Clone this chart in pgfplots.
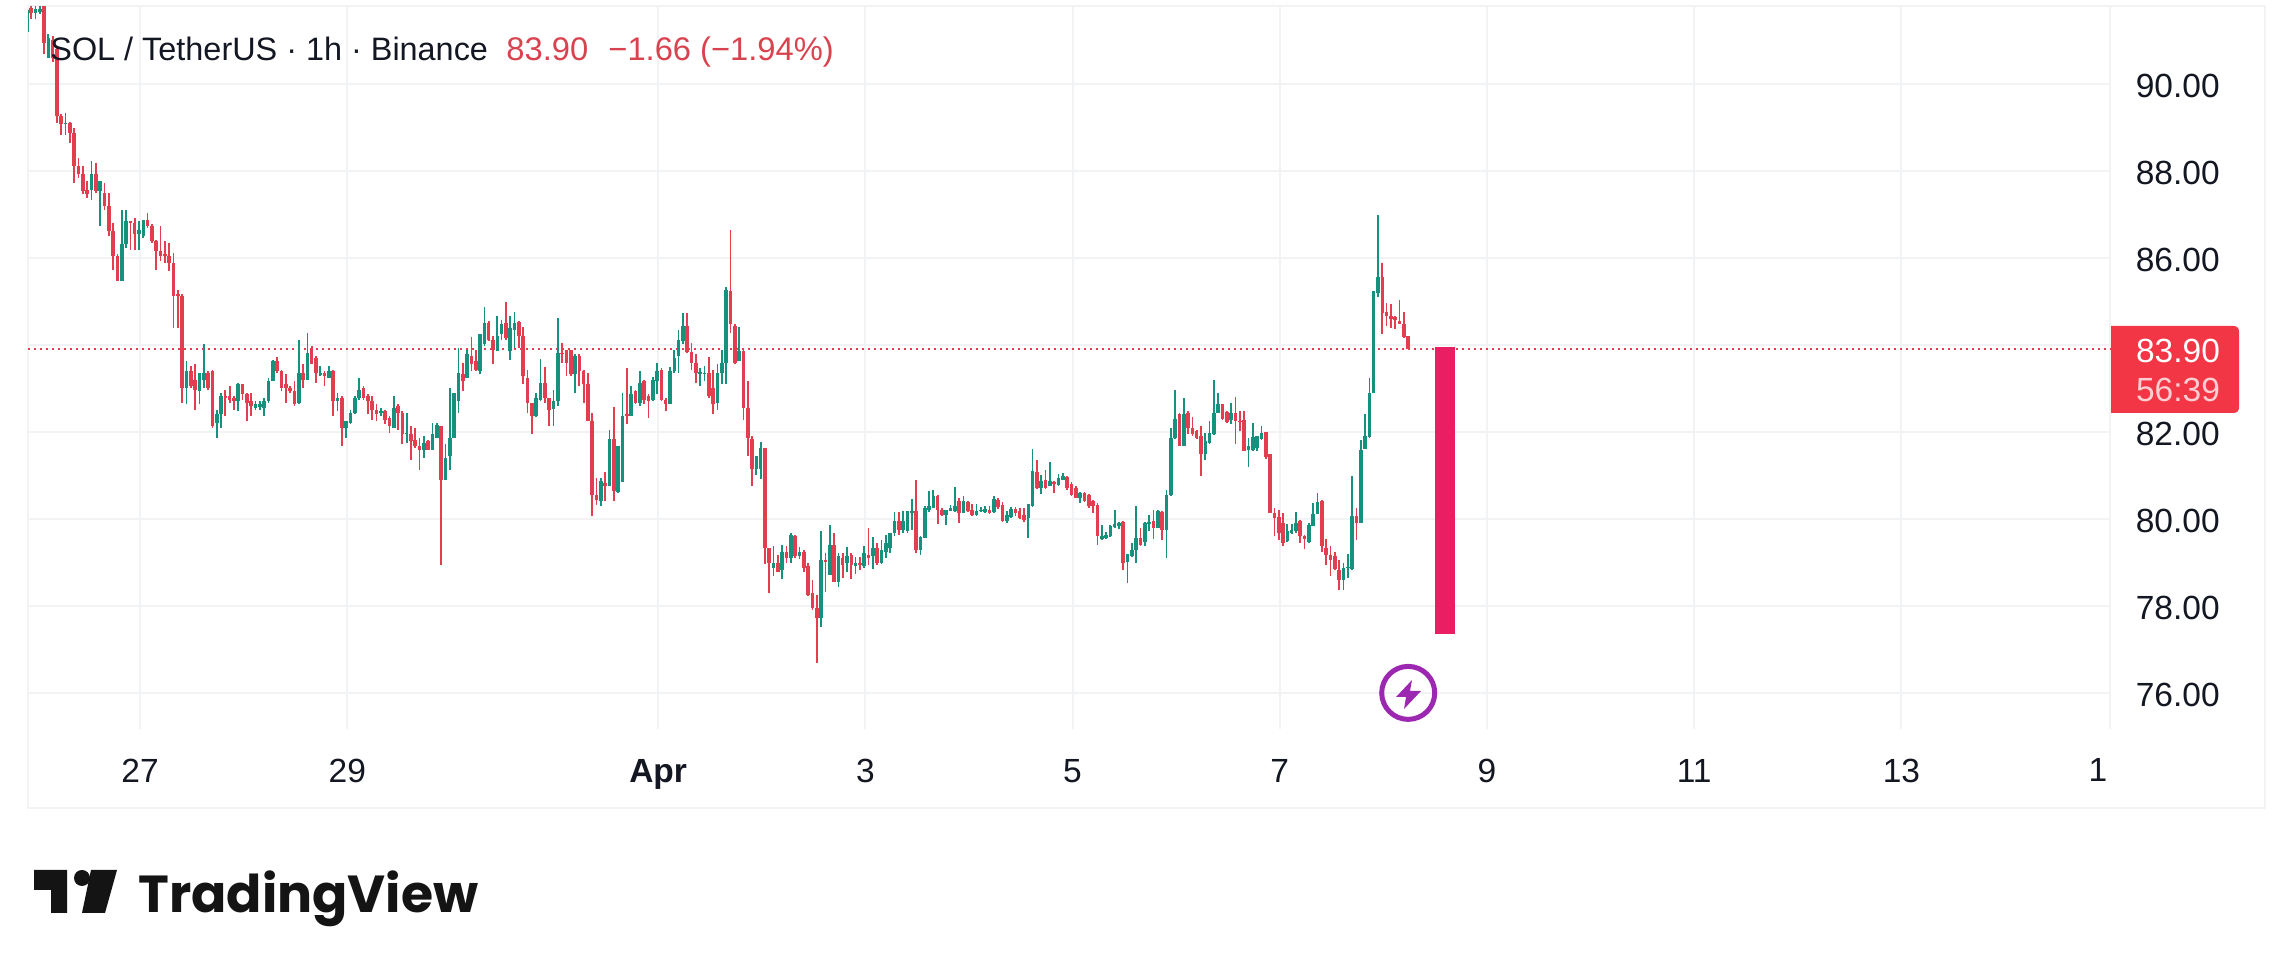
\documentclass[border=0pt]{standalone}
\usepackage{pgfplots}
\usepackage{pgfplotstable}
\usepackage{fontspec}
\pgfplotsset{compat=1.18}
\setmainfont{Liberation Sans}
\newfontfamily\logofont{Poppins}
\definecolor{upc}{HTML}{16917D}
\definecolor{dnc}{HTML}{E23E50}
\definecolor{gridc}{HTML}{F2F3F5}
\definecolor{textc}{HTML}{131722}
\definecolor{titlered}{HTML}{D9434F}
\definecolor{tagred}{HTML}{F23645}
\definecolor{barc}{HTML}{E91E63}
\definecolor{purp}{HTML}{9C27B0}
\newcommand{\tf}{\fontsize{16.75pt}{20pt}\selectfont}
\newcommand{\ttf}{\fontsize{16.35pt}{20pt}\selectfont}
\newcommand{\tbf}{\fontsize{16.2pt}{20pt}\selectfont}
\pgfplotstableread{
h o hi lo c
-26 91.2 91.79 91.03 91.7
-25 91.75 91.79 91.48 91.62
-24 91.62 91.79 91.48 91.72
-23 91.65 91.79 91.6 91.72
-22 91.79 91.79 90.68 90.95
-21 90.6 91.14 90.6 91.06
-20 91.0 91.1 90.5 90.6
-19 90.8 90.85 89.11 89.26
-18 89.26 89.3 88.82 89.07
-17 89.07 89.34 88.82 89.11
-16 89.09 89.12 88.65 88.88
-15 88.88 88.99 87.73 88.11
-14 88.11 88.3 87.84 87.92
-13 87.92 88.11 87.46 87.54
-12 87.57 87.76 87.38 87.46
-11 87.57 88.22 87.34 87.92
-10 87.92 88.19 87.5 87.54
-9 87.54 87.77 86.73 87.77
-8 87.5 87.71 87.11 87.19
-7 87.19 87.5 86.5 86.61
-6 86.61 86.79 85.73 86.04
-5 86.04 86.1 85.46 85.46
-4 85.46 87.11 85.46 86.31
-3 86.31 87.11 86.23 86.85
-2 86.85 86.85 86.19 86.8
-1 86.8 86.92 86.19 86.54
0 86.54 86.85 86.19 86.65
1 86.5 86.88 86.46 86.87
2 86.88 87.04 86.69 86.73
3 86.73 86.77 86.35 86.38
4 86.38 86.42 85.73 86.15
5 86.15 86.73 85.92 86.04
6 86.08 86.38 85.89 86.04
7 86.04 86.35 85.69 85.89
8 85.89 86.12 84.39 85.12
9 85.16 85.27 84.39 85.12
10 85.12 85.16 82.67 83.01
11 83.01 83.62 82.63 83.39
12 83.39 83.51 83.01 83.05
13 83.2 83.55 82.51 82.97
14 82.93 83.36 82.63 83.36
15 83.2 84.01 83.01 83.36
16 83.36 83.39 82.97 83.01
17 83.39 83.43 82.09 82.13
18 82.2 82.51 81.86 82.4
19 82.4 82.9 82.09 82.82
20 82.82 82.97 82.36 82.78
21 82.82 83.05 82.67 82.74
22 82.78 82.82 82.51 82.7
23 82.7 83.13 82.47 83.09
24 83.09 83.09 82.74 82.86
25 82.86 82.9 82.24 82.67
26 82.7 82.9 82.36 82.59
27 82.55 82.7 82.51 82.63
28 82.58 82.7 82.51 82.63
29 82.55 82.78 82.36 82.7
30 82.7 83.24 82.67 83.17
31 83.17 83.66 83.17 83.62
32 83.62 83.72 83.36 83.39
33 83.39 83.43 82.93 83.01
34 83.09 83.32 82.67 83.01
35 83.01 83.05 82.9 82.93
36 82.93 83.17 82.59 82.63
37 82.67 84.11 82.63 83.36
38 83.36 83.55 83.01 83.2
39 83.2 84.28 83.2 83.82
40 83.89 83.97 83.55 83.55
41 83.7 83.74 83.13 83.36
42 83.3 83.51 83.28 83.36
43 83.36 83.39 83.05 83.28
44 83.24 83.51 83.24 83.39
45 83.39 83.43 82.36 82.7
46 82.7 82.9 82.47 82.78
47 82.78 82.82 81.67 82.09
48 82.09 82.24 81.86 82.24
49 82.2 82.51 82.17 82.44
50 82.44 82.82 82.4 82.78
51 82.78 83.24 82.74 82.97
52 83.01 83.05 82.74 82.78
53 82.82 82.86 82.4 82.7
54 82.7 82.82 82.28 82.51
55 82.51 82.63 82.24 82.4
56 82.44 82.55 82.36 82.47
57 82.47 82.51 82.17 82.28
58 82.32 82.36 81.98 82.13
59 82.09 82.82 82.09 82.55
60 82.59 82.63 82.05 82.44
61 82.44 82.47 81.71 81.94
62 81.94 82.44 81.74 81.98
63 81.94 82.13 81.36 81.78
64 81.82 82.09 81.63 81.67
65 81.67 81.86 81.13 81.59
66 81.59 81.9 81.4 81.74
67 81.78 81.82 81.59 81.59
68 81.59 82.2 81.59 81.94
69 81.86 82.2 81.86 82.15
70 82.13 82.13 78.94 80.9
71 80.9 81.71 80.9 81.4
72 81.44 83.01 81.13 81.86
73 81.86 82.9 81.86 82.9
74 82.7 83.93 82.44 83.36
75 83.32 83.59 82.93 83.17
76 83.24 83.89 83.24 83.78
77 83.74 84.18 83.39 83.55
78 83.62 83.89 83.39 83.43
79 83.39 84.24 83.32 84.24
80 84.01 84.87 83.97 84.51
81 84.51 84.55 84.1 84.12
82 84.12 84.2 83.55 83.89
83 83.85 84.66 83.85 84.2
84 84.24 84.58 84.12 84.47
85 84.51 84.98 84.12 84.16
86 83.85 84.66 83.66 84.39
87 84.35 84.75 83.93 84.51
88 84.52 84.54 83.93 84.2
89 84.2 84.41 83.09 83.28
90 83.24 83.42 82.44 82.67
91 82.67 82.67 81.96 82.36
92 82.36 82.9 82.34 82.78
93 82.74 83.68 82.7 83.13
94 83.13 83.49 82.67 82.78
95 82.78 82.78 82.13 82.51
96 82.53 82.96 82.13 82.7
97 82.7 84.62 82.59 83.82
98 83.82 84.05 83.59 83.8
99 83.89 83.89 83.28 83.59
100 83.89 83.89 83.28 83.32
101 83.32 83.78 82.9 83.75
102 83.74 83.8 83.05 83.39
103 83.39 83.42 82.67 83.09
104 83.09 83.36 82.24 82.24
105 82.24 82.44 80.07 80.56
106 80.56 80.94 80.33 80.44
107 80.4 80.94 80.29 80.86
108 80.83 81.07 80.4 80.75
109 80.75 82.05 80.75 81.84
110 81.84 82.57 80.4 80.63
111 80.61 81.67 80.59 81.67
112 80.84 82.9 80.84 82.37
113 82.4 83.47 82.19 82.36
114 82.36 83.06 82.36 82.86
115 82.93 82.97 82.65 82.67
116 82.67 83.39 82.59 83.13
117 83.16 83.2 82.63 82.74
118 82.82 82.86 82.32 82.7
119 82.74 83.26 82.7 83.2
120 83.16 83.59 82.86 83.39
121 83.42 83.47 82.7 82.73
122 82.74 82.78 82.47 82.63
123 82.63 83.49 82.63 83.39
124 83.39 83.89 83.36 83.7
125 83.74 84.34 83.36 84.12
126 84.08 84.73 84.01 84.43
127 84.44 84.73 83.82 83.83
128 83.83 84.05 83.43 83.59
129 83.59 83.78 83.13 83.36
130 83.34 83.47 83.06 83.37
131 83.34 83.51 83.16 83.36
132 83.36 83.72 82.78 82.82
133 83.01 83.42 82.4 82.65
134 82.67 83.57 82.51 83.36
135 83.36 83.88 83.09 83.59
136 83.59 85.33 83.09 85.27
137 85.23 86.64 84.28 84.47
138 84.44 84.47 83.55 83.59
139 83.62 84.41 83.62 83.85
140 83.85 83.88 82.28 82.55
141 82.55 83.16 81.44 81.86
142 81.84 81.91 80.75 81.15
143 81.15 81.44 81.02 81.44
144 81.15 81.76 80.92 81.63
145 81.63 81.63 78.97 79.33
146 79.33 79.33 78.29 78.98
147 78.87 79.38 78.68 78.98
148 78.98 79.18 78.77 78.79
149 78.83 79.41 78.62 79.25
150 79.25 79.37 78.98 79.1
151 79.1 79.67 78.98 79.64
152 79.61 79.64 79.1 79.14
153 79.14 79.35 79.08 79.25
154 79.25 79.29 78.79 78.87
155 78.91 78.98 78.22 78.26
156 78.29 78.6 77.91 77.95
157 77.95 78.26 76.68 77.72
158 77.72 79.71 77.51 79.06
159 79.06 79.21 78.33 79.02
160 78.72 79.87 78.72 79.41
161 79.41 79.67 78.56 78.56
162 78.56 79.21 78.43 79.14
163 79.1 79.21 78.64 78.95
164 78.98 79.35 78.77 79.14
165 79.17 79.21 78.62 78.95
166 78.92 79.12 78.74 78.98
167 78.98 79.12 78.82 78.95
168 78.91 79.37 78.87 79.21
169 79.17 79.79 78.95 79.1
170 79.14 79.58 78.85 79.33
171 79.33 79.45 78.95 78.98
172 78.98 79.52 78.97 79.29
173 79.25 79.64 79.1 79.44
174 79.33 79.67 79.21 79.67
175 79.67 80.15 79.6 79.94
176 79.94 80.15 79.64 79.75
177 79.75 80.19 79.67 79.94
178 79.71 80.19 79.67 80.17
179 80.13 80.46 79.75 80.17
180 80.17 80.89 79.21 79.29
181 79.29 79.6 79.18 79.58
182 79.56 80.3 79.56 80.25
183 80.21 80.63 80.15 80.29
184 80.25 80.66 80.25 80.53
185 80.53 80.56 79.89 80.21
186 80.21 80.25 80.06 80.1
187 80.1 80.21 79.87 80.2
188 80.17 80.33 80.17 80.25
189 80.17 80.73 80.15 80.3
190 80.4 80.48 79.9 80.13
191 80.13 80.52 80.13 80.4
192 80.38 80.4 80.15 80.17
193 80.21 80.35 80.06 80.1
194 80.1 80.35 80.07 80.17
195 80.17 80.27 80.15 80.21
196 80.15 80.3 80.14 80.23
197 80.21 80.29 80.12 80.14
198 80.15 80.52 80.14 80.46
199 80.44 80.48 80.23 80.27
200 80.33 80.38 79.92 79.94
201 79.94 80.17 79.9 80.1
202 80.04 80.27 80.03 80.23
203 80.23 80.27 80.06 80.14
204 80.17 80.25 80.0 80.02
205 80.1 80.25 79.92 79.98
206 80.02 80.35 79.56 80.35
207 80.29 81.61 80.27 81.09
208 81.07 81.36 80.69 80.71
209 80.71 81.02 80.58 80.86
210 80.9 81.12 80.69 80.71
211 80.76 81.3 80.75 80.86
212 80.84 80.86 80.6 80.81
213 80.79 81.04 80.76 80.94
214 80.9 81.06 80.89 80.98
215 80.96 80.98 80.67 80.71
216 80.81 80.84 80.52 80.56
217 80.71 80.75 80.48 80.48
218 80.48 80.61 80.37 80.6
219 80.6 80.61 80.38 80.4
220 80.56 80.58 80.25 80.29
221 80.4 80.44 80.14 80.3
222 80.33 80.37 79.41 79.6
223 79.54 79.87 79.52 79.6
224 79.56 79.69 79.54 79.64
225 79.6 79.87 79.58 79.84
226 79.81 80.21 79.79 79.89
227 79.84 79.92 79.77 79.91
228 79.92 79.94 78.82 78.98
229 79.0 79.2 78.52 79.2
230 79.15 79.45 79.12 79.28
231 79.28 80.3 78.98 79.56
232 79.56 79.79 79.38 79.41
233 79.46 79.92 79.37 79.9
234 79.89 80.1 79.71 79.92
235 79.94 80.21 79.54 79.79
236 79.79 80.21 79.79 80.17
237 80.15 80.17 79.52 79.75
238 79.75 80.67 79.1 80.56
239 80.56 82.09 80.52 81.86
240 81.86 82.97 81.84 82.3
241 82.4 82.44 81.67 81.67
242 81.67 82.78 81.67 82.4
243 82.44 82.47 81.94 82.09
244 82.09 82.34 81.9 81.94
245 82.01 82.05 81.84 81.86
246 81.9 82.13 80.98 81.48
247 81.48 81.98 81.36 81.78
248 81.75 82.24 81.73 81.98
249 81.96 83.2 81.92 82.44
250 82.44 82.9 82.44 82.65
251 82.65 82.65 82.27 82.3
252 82.45 82.47 82.2 82.22
253 82.28 82.67 82.17 82.44
254 82.44 82.8 81.73 82.24
255 82.24 82.47 82.01 82.22
256 82.27 82.47 81.55 81.55
257 81.58 81.86 81.19 81.67
258 81.58 82.2 81.55 81.88
259 81.63 81.91 81.55 81.91
260 81.84 82.13 81.82 81.98
261 81.99 81.99 81.38 81.42
262 81.48 81.5 80.14 80.14
263 80.14 80.25 79.6 80.02
264 80.04 80.21 79.52 79.68
265 79.9 80.14 79.38 79.45
266 79.48 79.89 79.46 79.71
267 79.68 79.89 79.66 79.75
268 79.71 80.15 79.68 79.9
269 79.94 79.98 79.45 79.6
270 79.6 79.64 79.31 79.54
271 79.46 79.9 79.45 79.87
272 79.83 80.37 79.83 80.12
273 80.12 80.6 80.12 80.38
274 80.4 80.44 79.23 79.37
275 79.33 79.54 78.95 79.18
276 79.18 79.37 78.68 79.06
277 79.14 79.25 78.83 78.85
278 78.83 79.05 78.37 78.59
279 78.59 78.98 78.37 78.87
280 78.87 79.2 78.64 78.89
281 78.85 80.98 78.83 80.06
282 80.06 80.25 79.52 79.9
283 79.9 81.81 79.9 81.59
284 81.61 82.4 81.61 81.91
285 81.88 83.24 81.86 82.9
286 82.9 85.23 82.9 85.23
287 85.2 86.99 85.1 85.56
288 85.56 85.89 84.26 84.74
289 84.75 84.97 84.43 84.66
290 84.66 84.95 84.39 84.6
291 84.64 84.66 84.37 84.58
292 84.54 85.03 84.47 84.49
293 84.49 84.75 84.16 84.18
294 84.2 84.2 83.9 83.9
}\ohlc
\begin{document}
\begin{tikzpicture}
\useasboundingbox (0,0) rectangle (1147pt,486pt);
\fill[white] (0,0) rectangle (1147pt,486pt);
\begin{scope}[x=0.5pt,y=-0.5pt,shift={(0pt,486pt)}]
\draw[gridc,line width=1pt] (28,6) rectangle (2265,808);
\draw[gridc,line width=1pt] (2110,6) -- (2110,729);
\end{scope}
\begin{axis}[
  at={(14pt,121.5pt)},anchor=south west,
  scale only axis,width=1041.5pt,height=361.5pt,
  xmin=-25.71,xmax=456.8,ymin=75.17,ymax=91.79,
  axis line style={draw=none},
  tick style={draw=none},major tick length=0pt,
  grid=major,grid style={gridc,line width=1pt},
  xtick={0.25,48.25,120.25,168.25,216.25,264.25,312.25,360.25,408.25},
  xticklabels={27,29,\textbf{Apr},3,5,7,9,11,13},
  ytick={76,78,80,82,84,86,88,90},
  yticklabels={76.00,78.00,80.00,82.00,{},86.00,88.00,90.00},
  yticklabel pos=right,
  tick label style={font=\tf,text=textc,inner sep=0pt},
  x tick label style={anchor=base,yshift=-27pt},
  y tick label style={anchor=west,xshift=12.2pt,yshift=-1pt},
]
\addplot[dnc,line width=1pt,dash pattern=on 1pt off 2pt,forget plot] coordinates {(-25.71,83.9) (456.8,83.9)};
% wicks
\addplot[draw=none,no markers,forget plot,x filter/.expression={\thisrow{c}<\thisrow{o} ? nan : x},
  error bars/.cd,y dir=plus,y explicit,error mark=none,error bar style={upc,line width=0.85pt}]
  table[x=h,y=lo,y error expr=\thisrow{hi}-\thisrow{lo}] {\ohlc};
\addplot[draw=none,no markers,forget plot,x filter/.expression={\thisrow{c}<\thisrow{o} ? x : nan},
  error bars/.cd,y dir=plus,y explicit,error mark=none,error bar style={dnc,line width=0.85pt}]
  table[x=h,y=lo,y error expr=\thisrow{hi}-\thisrow{lo}] {\ohlc};
% bodies
\addplot[draw=none,no markers,forget plot,x filter/.expression={\thisrow{c}<\thisrow{o} ? nan : x},
  error bars/.cd,y dir=plus,y explicit,error mark=none,error bar style={upc,line width=1.8pt}]
  table[x=h,y=o,y error expr=\thisrow{c}-\thisrow{o}] {\ohlc};
\addplot[draw=none,no markers,forget plot,x filter/.expression={\thisrow{c}<\thisrow{o} ? x : nan},
  error bars/.cd,y dir=plus,y explicit,error mark=none,error bar style={dnc,line width=1.8pt}]
  table[x=h,y=c,y error expr=\thisrow{o}-\thisrow{c}] {\ohlc};
% tall bar
\addplot[fill=barc,draw=none,forget plot] coordinates {(300.2,77.36) (304.8,77.36) (304.8,83.95) (300.2,83.95)} -- cycle;
% event marker
\addplot[only marks,mark=o,mark size=13.25pt,mark options={draw=purp,line width=2.5pt},forget plot] coordinates {(294,76)};
\end{axis}
\begin{scope}[x=0.5pt,y=-0.5pt,shift={(0pt,486pt)}]
\node[anchor=base,inner sep=0pt,text=textc,font=\tf] at (2098,782) {1};
\node[anchor=base west,inner sep=0pt,text=textc,font=\tbf] at (50,61) {SOL / TetherUS · 1h · Binance};
\node[anchor=base west,inner sep=0pt,text=titlered,font=\ttf] at (506,61) {83.90};
\node[anchor=base west,inner sep=0pt,text=titlered,font=\ttf] at (608,61) {−1.66 (−1.94\%)};
\fill[tagred] (2111,326) -- (2233,326) .. controls (2237,326) and (2239,328) .. (2239,332) -- (2239,407) .. controls (2239,411) and (2237,413) .. (2233,413) -- (2111,413) -- cycle;
\node[anchor=base,inner sep=0pt,text=white,font=\tf] at (2178,363) {83.90};
\node[anchor=base,inner sep=0pt,text=white!75!tagred,font=\tf] at (2178,402) {56:39};
\fill[purp] (1412,680) -- (1396,697) -- (1406,697) -- (1404,709) -- (1421,691) -- (1410,691) -- cycle;
% logo
\fill[black!92] (34,870) -- (67,870) -- (67,913) -- (51,913) -- (51,890) -- (34,890) -- cycle;
\fill[black!92] (82,878) circle[radius=8];
\fill[black!92] (91,870) -- (117,870) -- (105,913) -- (82,913) -- cycle;
\node[anchor=base west,inner sep=0pt,text=black!92] at (138,913) {\resizebox{170pt}{!}{\logofont\bfseries TradingView}};
\end{scope}
\end{tikzpicture}
\end{document}
